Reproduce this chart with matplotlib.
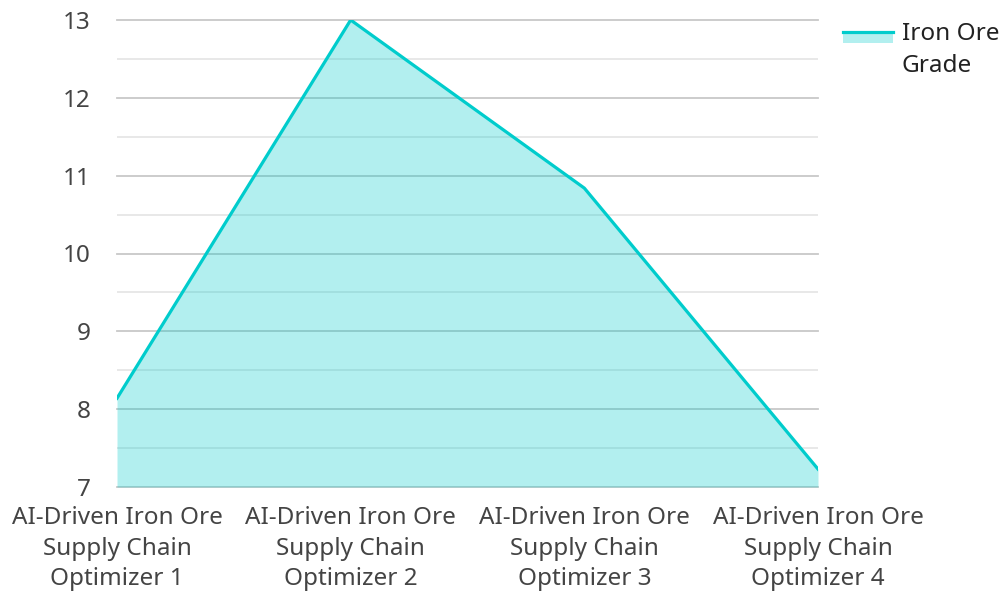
import matplotlib.pyplot as plt
from matplotlib.lines import Line2D
from matplotlib.patches import Rectangle

plt.rcParams['font.family'] = ['Noto Sans', 'DejaVu Sans']

categories = [
    "AI-Driven Iron Ore\nSupply Chain\nOptimizer 1",
    "AI-Driven Iron Ore\nSupply Chain\nOptimizer 2",
    "AI-Driven Iron Ore\nSupply Chain\nOptimizer 3",
    "AI-Driven Iron Ore\nSupply Chain\nOptimizer 4",
]
grade = [8.14, 13.0, 10.84, 7.23]
series_name = "Iron Ore\nGrade"

line_color = '#00cccc'
text_color = '#444444'
fs = 17.5

fig = plt.figure(figsize=(10.04, 5.91), dpi=100)
ax = fig.add_axes([117 / 1004, 104 / 591, 701 / 1004, 467 / 591])

x = list(range(len(categories)))

# grid first, fill on top so the lines show through
for v in range(7, 14):
    ax.axhline(v, color='#c8c8c8', linewidth=1.3, zorder=0, clip_on=False)
for v in [7.5, 8.5, 9.5, 10.5, 11.5, 12.5]:
    ax.axhline(v, color='#e6e6e6', linewidth=1.3, zorder=0)

ax.fill_between(x, 7, grade, color=line_color, alpha=0.3, linewidth=0, zorder=1)
ax.plot(x, grade, color=line_color, linewidth=2.3, zorder=2)

ax.set_xlim(0, 3)
ax.set_ylim(7, 13)
ax.set_yticks(range(7, 14))
ax.set_xticks(x)
ax.set_xticklabels(categories, linespacing=1.36)
ax.tick_params(axis='both', length=0, labelsize=fs, colors=text_color)
ax.tick_params(axis='y', pad=19)
ax.tick_params(axis='x', pad=14)
for s in ax.spines.values():
    s.set_visible(False)

# legend drawn by hand to match the stacked line + area swatch
fig.add_artist(Rectangle((843 / 1004, 1 - 43 / 591), 50 / 1004, 11 / 591,
                         transform=fig.transFigure, color=line_color, alpha=0.3, linewidth=0))
fig.add_artist(Line2D([843 / 1004, 893 / 1004], [1 - 32 / 591, 1 - 32 / 591],
                      transform=fig.transFigure, color=line_color, linewidth=2.3))
fig.text(902 / 1004, 1 - 22 / 591, series_name, fontsize=fs, color='#222222',
         va='top', ha='left', linespacing=1.42)

fig.savefig('out.png', dpi=100)
